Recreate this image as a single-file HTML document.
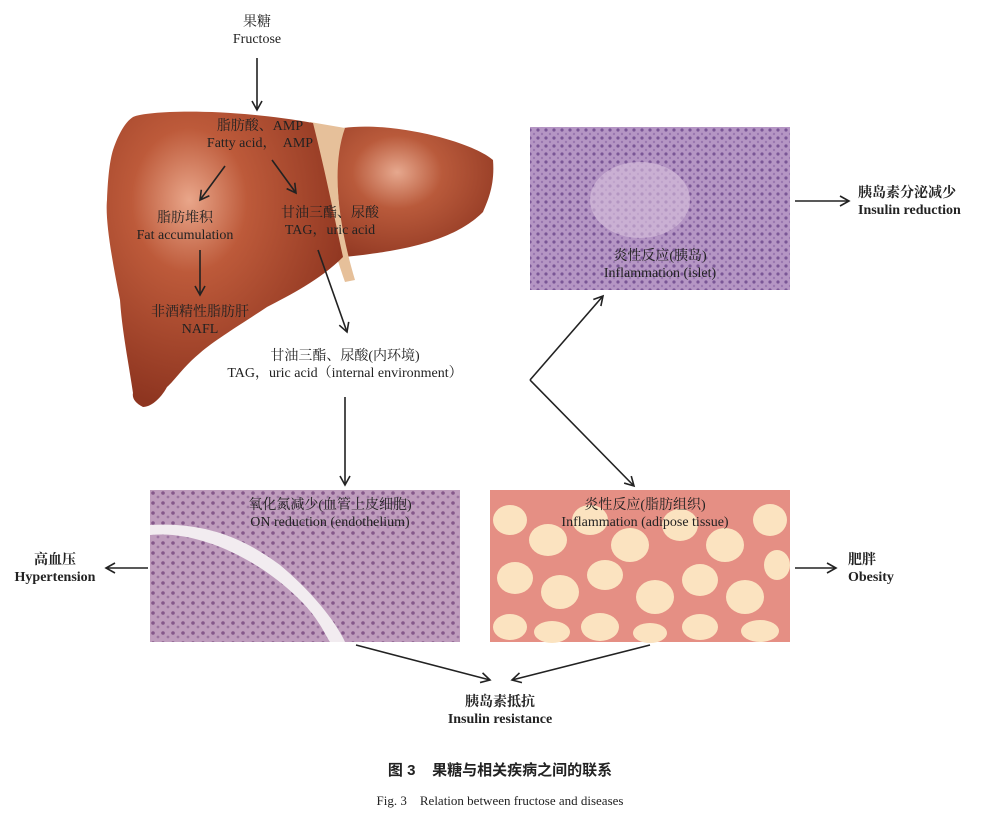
<!DOCTYPE html>
<html><head><meta charset="utf-8"><style>
body{margin:0;background:#fff;}
.t{position:absolute;font-family:"Liberation Serif","Noto Serif CJK SC",serif;font-size:14px;color:#222;text-align:center;line-height:17px;white-space:nowrap;}
</style></head><body>
<div style="position:relative;width:1000px;height:813px;overflow:hidden;">
<svg width="1000" height="813" style="position:absolute;left:0;top:0">
<defs>
<radialGradient id="lv" cx="0.35" cy="0.3" r="0.7"><stop offset="0" stop-color="#e9a68a"/><stop offset="0.35" stop-color="#bd5a3a"/><stop offset="1" stop-color="#8e3520"/></radialGradient>
<radialGradient id="lv2" cx="0.4" cy="0.35" r="0.7"><stop offset="0" stop-color="#e6a88e"/><stop offset="0.4" stop-color="#b95a3b"/><stop offset="1" stop-color="#933a24"/></radialGradient>
<pattern id="pur" width="8" height="8" patternUnits="userSpaceOnUse"><rect width="8" height="8" fill="#b596c4"/><circle cx="2" cy="2" r="1.6" fill="#7a5696"/><circle cx="6" cy="6" r="1.2" fill="#9a78b0"/></pattern>
<pattern id="end" width="10" height="10" patternUnits="userSpaceOnUse"><rect width="10" height="10" fill="#bf9dbd"/><circle cx="3" cy="3" r="1.8" fill="#85588a"/><circle cx="8" cy="7" r="1.4" fill="#9c74a0"/></pattern>
<marker id="ah" markerWidth="12" markerHeight="12" refX="10" refY="6" orient="auto" markerUnits="userSpaceOnUse"><path d="M1,1 L10,6 L1,11" fill="none" stroke="#222" stroke-width="1.6"/></marker>
</defs>
<path d="M333,130 C380,118 470,140 493,160 C495,185 488,200 483,212 C460,235 420,250 343,257 Z" fill="url(#lv2)"/>
<path d="M310,122 L345,128 C330,170 340,230 355,280 L345,282 C330,240 315,180 310,122Z" fill="#e6c09a"/>
<path d="M133,117 C150,110 230,108 313,123 C325,170 335,220 343,257 C320,280 290,295 267,307 C240,325 215,340 200,353 C185,365 175,380 167,387 C160,400 150,407 143,407 C135,403 132,398 133,393 C128,360 122,330 120,300 C112,260 105,220 107,200 C108,175 110,160 113,150 C118,135 125,122 133,117Z" fill="url(#lv)"/>
<rect x="530" y="127" width="260" height="163" fill="url(#pur)"/>
<ellipse cx="640" cy="200" rx="50" ry="38" fill="#d8c2de" opacity="0.6"/>
<rect x="150" y="490" width="310" height="152" fill="url(#end)"/>
<path d="M150,535 C200,530 260,560 300,600 C320,620 325,635 330,642 L345,642 C335,620 310,590 280,565 C240,535 200,522 150,525Z" fill="#f2ecf0"/>
<rect x="490" y="490" width="300" height="152" fill="#e58f84"/>
<g fill="#fbe3c0">
<ellipse cx="510" cy="520" rx="17" ry="15"/><ellipse cx="548" cy="540" rx="19" ry="16"/><ellipse cx="590" cy="520" rx="18" ry="15"/><ellipse cx="630" cy="545" rx="19" ry="17"/><ellipse cx="680" cy="525" rx="18" ry="16"/><ellipse cx="725" cy="545" rx="19" ry="17"/><ellipse cx="770" cy="520" rx="17" ry="16"/>
<ellipse cx="515" cy="578" rx="18" ry="16"/><ellipse cx="560" cy="592" rx="19" ry="17"/><ellipse cx="605" cy="575" rx="18" ry="15"/><ellipse cx="655" cy="597" rx="19" ry="17"/><ellipse cx="700" cy="580" rx="18" ry="16"/><ellipse cx="745" cy="597" rx="19" ry="17"/><ellipse cx="777" cy="565" rx="13" ry="15"/>
<ellipse cx="510" cy="627" rx="17" ry="13"/><ellipse cx="552" cy="632" rx="18" ry="11"/><ellipse cx="600" cy="627" rx="19" ry="14"/><ellipse cx="650" cy="633" rx="17" ry="10"/><ellipse cx="700" cy="627" rx="18" ry="13"/><ellipse cx="760" cy="631" rx="19" ry="11"/>
</g>
<g stroke="#222" stroke-width="1.6" fill="none" marker-end="url(#ah)">
<line x1="257" y1="58" x2="257" y2="110"/>
<line x1="225" y1="166" x2="200" y2="200"/>
<line x1="272" y1="160" x2="296" y2="193"/>
<line x1="200" y1="250" x2="200" y2="295"/>
<line x1="318" y1="250" x2="347" y2="332"/>
<line x1="345" y1="397" x2="345" y2="485"/>
<path d="M530,380 L603,296"/>
<path d="M530,380 L634,486"/>
<line x1="795" y1="201" x2="849" y2="201"/>
<line x1="795" y1="568" x2="836" y2="568"/>
<line x1="148" y1="568" x2="106" y2="568"/>
<line x1="356" y1="645" x2="490" y2="680"/>
<line x1="650" y1="645" x2="512" y2="680"/>
</g>
</svg>
<div class="t" style="left:207px;top:14px;width:100px">果糖<br>Fructose</div>
<div class="t" style="left:170px;top:118px;width:180px">脂肪酸、AMP<br>Fatty acid，&nbsp; AMP</div>
<div class="t" style="left:110px;top:210px;width:150px">脂肪堆积<br>Fat accumulation</div>
<div class="t" style="left:255px;top:205px;width:150px">甘油三酯、尿酸<br>TAG，uric acid</div>
<div class="t" style="left:120px;top:304px;width:160px">非酒精性脂肪肝<br>NAFL</div>
<div class="t" style="left:190px;top:348px;width:310px">甘油三酯、尿酸(内环境)<br>TAG，uric acid（internal environment）</div>
<div class="t" style="left:560px;top:248px;width:200px">炎性反应(胰岛)<br>Inflammation (islet)</div>
<div class="t" style="left:858px;top:185px;width:140px;text-align:left;font-weight:bold">胰岛素分泌减少<br>Insulin reduction</div>
<div class="t" style="left:200px;top:497px;width:260px">氧化氮减少(血管上皮细胞)<br>ON reduction (endothelium)</div>
<div class="t" style="left:510px;top:497px;width:270px">炎性反应(脂肪组织)<br>Inflammation (adipose tissue)</div>
<div class="t" style="left:0px;top:552px;width:110px;font-weight:bold">高血压<br>Hypertension</div>
<div class="t" style="left:848px;top:552px;width:60px;text-align:left;font-weight:bold">肥胖<br>Obesity</div>
<div class="t" style="left:420px;top:694px;width:160px;font-weight:bold">胰岛素抵抗<br>Insulin resistance</div>
<div class="t" style="left:300px;top:762px;width:400px;font-size:15px;font-weight:bold;font-family:'Liberation Sans','Noto Sans CJK SC',sans-serif">图 3&nbsp;&nbsp;&nbsp; 果糖与相关疾病之间的联系</div>
<div class="t" style="left:300px;top:792px;width:400px;font-size:13px">Fig. 3&nbsp;&nbsp;&nbsp; Relation between fructose and diseases</div>
</div>
</body></html>
